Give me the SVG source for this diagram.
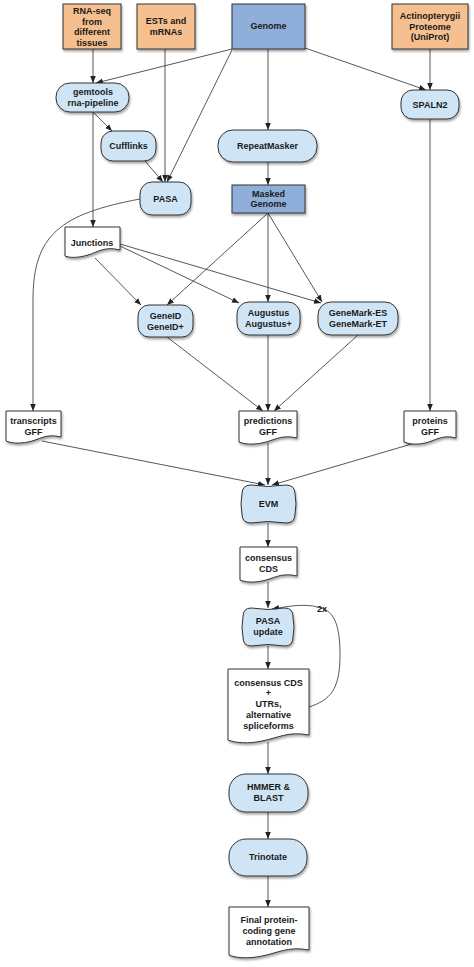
<svg xmlns="http://www.w3.org/2000/svg" width="474" height="967" viewBox="0 0 474 967">
<style>
text{font-family:"Liberation Sans",Arial,sans-serif;font-weight:bold;font-size:9px;fill:#1a1a1a;text-anchor:middle}
.org{fill:#F6BF8F;stroke:#333;stroke-width:1}
.blu{fill:#8FAEDA;stroke:#333;stroke-width:1}
.pill{fill:#CFE5F6;stroke:#333;stroke-width:1}
.doc{fill:#fff;stroke:#333;stroke-width:1}
.c path,.c line{fill:none;stroke:#444;stroke-width:0.9;marker-end:url(#ah)}
.sh{filter:url(#ds)}
</style>
<defs>
<marker id="ah" viewBox="0 0 10 10" refX="10" refY="5" markerWidth="7" markerHeight="7" orient="auto" markerUnits="userSpaceOnUse"><path d="M0,1 L10,5 L0,9 Z" fill="#222"/></marker>
<filter id="ds" x="-20%" y="-20%" width="140%" height="150%"><feDropShadow dx="1" dy="2" stdDeviation="1.2" flood-color="#000" flood-opacity="0.35"/></filter>
</defs>
<rect width="474" height="967" fill="#fff"/>
<g class="c">
<line x1="93" y1="49" x2="93" y2="83"/>
<line x1="232" y1="49" x2="96" y2="83"/>
<line x1="232" y1="50" x2="167" y2="182"/>
<line x1="165" y1="49" x2="165" y2="182"/>
<line x1="93" y1="112" x2="112" y2="131"/>
<line x1="145" y1="161" x2="163" y2="182"/>
<line x1="93" y1="112" x2="93" y2="227"/>
<line x1="268" y1="49" x2="268" y2="130"/>
<line x1="268" y1="162" x2="268" y2="185"/>
<line x1="305" y1="48" x2="426" y2="90"/>
<line x1="430" y1="49" x2="430" y2="90"/>
<line x1="430" y1="119" x2="430" y2="411"/>
<path d="M140,199 C60,214 33,235 33,300 L33,411"/>
<line x1="95" y1="258" x2="141" y2="305"/>
<line x1="120" y1="246" x2="239" y2="303"/>
<line x1="120" y1="244" x2="321" y2="303"/>
<line x1="268" y1="213" x2="167" y2="305"/>
<line x1="268" y1="213" x2="268" y2="302"/>
<line x1="268" y1="213" x2="322" y2="302"/>
<line x1="167" y1="337" x2="263" y2="411"/>
<line x1="268" y1="335" x2="268" y2="411"/>
<line x1="358" y1="335" x2="274" y2="411"/>
<line x1="42" y1="441" x2="265" y2="485"/>
<line x1="268" y1="443" x2="268" y2="485"/>
<line x1="415" y1="443" x2="272" y2="485"/>
<line x1="268" y1="523" x2="268" y2="547"/>
<line x1="268" y1="582" x2="268" y2="608"/>
<path d="M309,707 C330,700 340,690 340,655 C340,630 336,616 326,610 C310,602 290,606 272,609"/>
<line x1="268" y1="646" x2="268" y2="669"/>
<line x1="268" y1="742" x2="268" y2="774"/>
<line x1="268" y1="812" x2="268" y2="839"/>
<line x1="268" y1="876" x2="268" y2="907"/>
</g>
<text x="322" y="612">2x</text>

<g id="rnaseq"><rect class="org sh" x="63" y="4" width="58" height="45"/><text x="92" y="14">RNA-seq</text><text x="92" y="24.5">from</text><text x="92" y="35">different</text><text x="92" y="45.5">tissues</text></g>
<g id="ests"><rect class="org sh" x="137" y="4" width="58" height="45"/><text x="166" y="24">ESTs and</text><text x="166" y="34.5">mRNAs</text></g>
<g id="genome"><rect class="blu sh" x="232" y="4" width="73" height="45"/><text x="268.5" y="29">Genome</text></g>
<g id="actino"><rect class="org sh" x="392" y="4" width="76" height="45"/><text x="430" y="19">Actinopterygii</text><text x="430" y="29.5">Proteome</text><text x="430" y="40">(UniProt)</text></g>

<g id="gemtools"><rect class="pill sh" x="56" y="83" width="73" height="29" rx="14"/><text x="93" y="95">gemtools</text><text x="93" y="105.5">rna-pipeline</text></g>
<g id="spaln2"><rect class="pill sh" x="401" y="90" width="58" height="29" rx="12"/><text x="430" y="108">SPALN2</text></g>
<g id="cufflinks"><rect class="pill sh" x="101" y="131" width="55" height="30" rx="12"/><text x="128.5" y="149">Cufflinks</text></g>
<g id="repeatmasker"><rect class="pill sh" x="218" y="130" width="99" height="32" rx="15"/><text x="267.5" y="149">RepeatMasker</text></g>
<g id="pasa"><rect class="pill sh" x="140" y="182" width="51" height="33" rx="12"/><text x="165.5" y="202">PASA</text></g>
<g id="masked"><rect class="blu sh" x="232" y="185" width="73" height="28"/><text x="268.5" y="196.5">Masked</text><text x="268.5" y="207">Genome</text></g>

<g id="junctions"><path class="doc sh" d="M65,227 H120 V250 C105,246 98,252 88,255 C78,258 70,258 65,256 Z"/><text x="92" y="246">Junctions</text></g>

<g id="geneid"><rect class="pill sh" x="138" y="305" width="55" height="32" rx="11"/><text x="165.5" y="319">GeneID</text><text x="165.5" y="329.5">GeneID+</text></g>
<g id="augustus"><rect class="pill sh" x="237" y="302" width="63" height="33" rx="12"/><text x="268.5" y="316">Augustus</text><text x="268.5" y="326.5">Augustus+</text></g>
<g id="genemark"><rect class="pill sh" x="318" y="302" width="80" height="33" rx="13"/><text x="358" y="316">GeneMark-ES</text><text x="358" y="326.5">GeneMark-ET</text></g>

<g id="transcripts"><path class="doc sh" d="M6,411 H61 V437 C46,433 39,440 28,442 C18,444 11,443 6,441 Z"/><text x="33.5" y="424">transcripts</text><text x="33.5" y="434.5">GFF</text></g>
<g id="predictions"><path class="doc sh" d="M239,411 H297 V438 C281,434 273,441 262,443 C252,445 244,444 239,442 Z"/><text x="268" y="424">predictions</text><text x="268" y="434.5">GFF</text></g>
<g id="proteins"><path class="doc sh" d="M404,411 H456 V438 C442,434 435,441 425,443 C416,445 409,444 404,442 Z"/><text x="430" y="424">proteins</text><text x="430" y="434.5">GFF</text></g>

<g id="evm"><path class="pill sh" d="M251,485 Q268,488 286,485 Q295,485 295,494 Q297,504 295,514 Q295,523 286,523 Q268,520 251,523 Q242,523 242,514 Q240,504 242,494 Q242,485 251,485 Z"/><text x="268.5" y="507">EVM</text></g>

<g id="consensus"><path class="doc sh" d="M240,547 H297 V576 C281,572 273,579 262,581 C252,583 245,582 240,580 Z"/><text x="268.5" y="561">consensus</text><text x="268.5" y="571.5">CDS</text></g>

<g id="pasaupdate"><path class="pill sh" d="M251,608 Q268,611 285,608 Q293,608 293,617 Q295,627 293,637 Q293,646 285,646 Q268,643 251,646 Q243,646 243,637 Q241,627 243,617 Q243,608 251,608 Z"/><text x="268" y="624">PASA</text><text x="268" y="634.5">update</text></g>

<g id="consutr"><path class="doc sh" d="M228,669 H309 V735 C288,731 278,738 262,741 C248,744 236,743 228,740 Z"/><text x="268.5" y="686">consensus CDS</text><text x="268.5" y="696">+</text><text x="268.5" y="707">UTRs,</text><text x="268.5" y="718">alternative</text><text x="268.5" y="729">spliceforms</text></g>

<g id="hmmer"><rect class="pill sh" x="229" y="774" width="79" height="38" rx="17"/><text x="268.5" y="790">HMMER &amp;</text><text x="268.5" y="800.5">BLAST</text></g>
<g id="trinotate"><rect class="pill sh" x="229" y="839" width="78" height="37" rx="17"/><text x="268" y="860">Trinotate</text></g>
<g id="final"><path class="doc sh" d="M229,907 H309 V950 C288,946 278,953 262,956 C248,959 236,958 229,955 Z"/><text x="269" y="923">Final protein-</text><text x="269" y="934">coding gene</text><text x="269" y="945">annotation</text></g>
</svg>
